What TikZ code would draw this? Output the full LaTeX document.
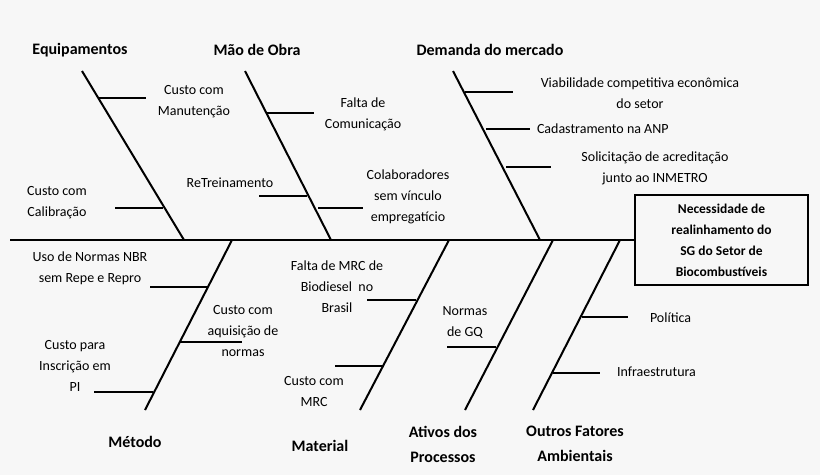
\documentclass[tikz,border=0pt]{standalone}
\usepackage{fontspec}
\setmainfont{Carlito}
\begin{document}
\begin{tikzpicture}[x=1pt,y=-1pt,line width=2pt,
  txt/.style={font=\fontsize{14}{21}\selectfont,align=center,inner sep=1pt},
  head/.style={font=\fontsize{16}{25}\selectfont\bfseries,align=center,inner sep=1pt}]
\useasboundingbox[fill=white!97!black] (0,0) rectangle (820,475);

\begin{scope} % spine and effect box
  \coordinate (tail) at (10,240);
  \node[draw,line width=2pt,minimum width=173pt,minimum height=90pt,
    font=\fontsize{13.5}{21}\selectfont\bfseries,align=center]
    (effect) at (721.5,240) {Necessidade de\\realinhamento do\\SG do Setor de\\Biocombustíveis};
  \draw (tail) -- (effect.west);
\end{scope}

\begin{scope} % top bones
  \foreach \n/\a/\b in {eq/82/184,mo/245/331,dm/453/540} {
    \coordinate (\n top) at (\a,71);
    \coordinate (\n bot) at (\b,240);
    \draw (\n top) -- (\n bot);
  }
  \node[head] (eqlab) at (80,50) {Equipamentos};
  \node[head] (molab) at (257,50) {Mão de Obra};
  \node[head] (dmlab) at (490,50) {Demanda do mercado};
\end{scope}

\begin{scope} % bottom bones
  \foreach \n/\a/\b in {me/232/145,ma/449/360,at/553/465,ou/620/533} {
    \coordinate (\n top) at (\a,240);
    \coordinate (\n bot) at (\b,410);
    \draw (\n top) -- (\n bot);
  }
  \node[head] (melab) at (135,442) {Método};
  \node[head] (malab) at (320,446) {Material};
  \node[head] (atlab) at (443,444) {Ativos dos\\Processos};
  \node[head] (oulab) at (575,444) {Outros Fatores\\Ambientais};
\end{scope}

\begin{scope} % small branches
  \foreach \n/\a/\b/\y in {b1/98/146/98, b2/115/163/208, b3/267/314/113,
      b4/259/307/196, b5/318/363/208, b6/465/513/92, b7/486/530/129,
      b8/506/551/167, b9/150/208/287, b10/180/242/342, b11/94/153/392,
      b12/367/416/300, b13/335/383/366, b14/447/496/347, b15/582/628/317,
      b16/553/600/373} {
    \coordinate (\n l) at (\a,\y);
    \coordinate (\n r) at (\b,\y);
    \draw (\n l) -- (\n r);
  }
\end{scope}

\begin{scope}[txt] % cause labels
  \node (manut) at (194,102) {Custo com\\Manutenção};
  \node (calib) at (57,203) {Custo com\\Calibração};
  \node (falta) at (363,114) {Falta de\\Comunicação};
  \node (retre) at (230,183) {ReTreinamento};
  \node (colab) at (408,197) {Colaboradores\\sem vínculo\\empregatício};
  \node (viab) at (640,93) {Viabilidade competitiva econômica\\do setor};
  \node[anchor=west] (cadas) at (535,129) {Cadastramento na ANP};
  \node (solic) at (655,168) {Solicitação de acreditação\\junto ao INMETRO};
  \node (uso) at (90,268) {Uso de Normas NBR\\sem Repe e Repro};
  \node (aquis) at (243,331) {Custo com\\aquisição de\\normas};
  \node (inscr) at (75,366) {Custo para\\Inscrição em\\PI};
  \node (mrc) at (337,287) {Falta de MRC de\\Biodiesel\ \ no\\Brasil};
  \node (cmrc) at (314,391) {Custo com\\MRC};
  \node (gq) at (465,322) {Normas\\de GQ};
  \node[anchor=west] (polit) at (648,318) {Política};
  \node[anchor=west] (infra) at (615,372) {Infraestrutura};
\end{scope}

\end{tikzpicture}
\end{document}
